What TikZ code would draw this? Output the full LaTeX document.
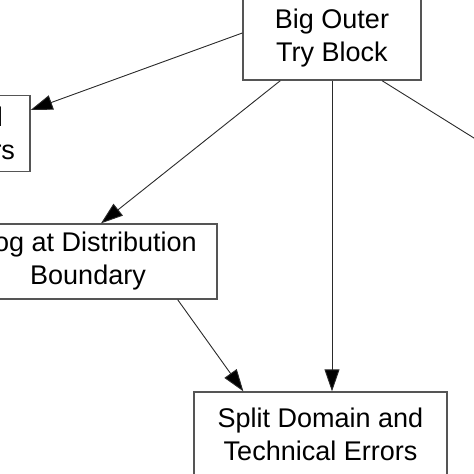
\documentclass[tikz,border=0pt]{standalone}
\usepackage{fontspec}
\setmainfont{Liberation Sans}
\usetikzlibrary{arrows.meta,calc}
\definecolor{boxline}{HTML}{555555}
\definecolor{conn}{HTML}{2A2A2A}
\tikzset{
  box/.style={draw=boxline, line width=1.3pt, fill=white, align=center, inner sep=0pt,
    font=\fontsize{27}{33}\selectfont},
  arr/.style={draw=conn, line width=0.9pt, -{Triangle[length=22pt,width=15pt,fill=black]}},
}
\begin{document}
\begin{tikzpicture}[x=1pt,y=-1pt]
\useasboundingbox (0,0) rectangle (474,474);
\clip (0,0) rectangle (474,474);
\node[box, minimum width=103.5pt, minimum height=76pt] (left) at (-21.75,133.5) {Fatal\hspace*{11pt}\\Errors};
\node[box, minimum width=178pt, minimum height=84pt] (top) at (332,38) {Big Outer\\Try Block};
\node[box, minimum width=258pt, minimum height=75pt] (mid) at (88,261.5) {Log at Distribution\\Boundary};
\node[box, minimum width=253pt, minimum height=84pt] (bot) at (320.5,434) {Split Domain and\\Technical Errors};
\coordinate (rt) at (530,173);
\draw[arr] ($(top.west)+(0,-5)$) -- ($(left.east)+(0,-23.5)$);
\draw[arr] ($(top.south west)+(38,0)$) -- ($(mid.north)+(13,0)$);
\draw[arr] (top.south) -- (top.south |- bot.north);
\draw[arr] ($(top.south)+(50,0)$) -- (rt);
\draw[arr] ($(mid.south east)+(-40,0)$) -- ($(bot.north west)+(50,0)$);
\end{tikzpicture}
\end{document}
